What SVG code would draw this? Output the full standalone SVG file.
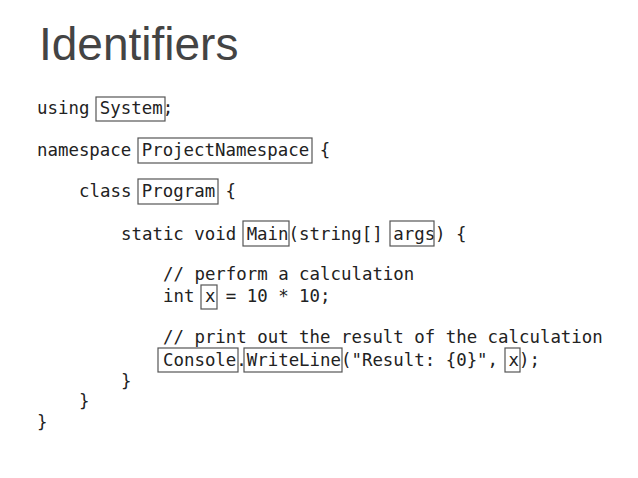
<svg xmlns="http://www.w3.org/2000/svg" width="638" height="478" viewBox="0 0 638 478">
<style>
.c{font-family:"DejaVu Sans Mono","Liberation Mono",monospace;font-size:17.4px;fill:#222;white-space:pre}
.b{fill:none;stroke:#555;stroke-width:1.2}
</style>
<rect width="638" height="478" fill="#fff"/>
<text x="39" y="60" font-family="Liberation Sans, Arial, sans-serif" font-size="46" fill="#444">Identifiers</text>
<g id="code">
<text class="c" x="37" y="114">using System;</text>
<text class="c" x="37" y="156">namespace ProjectNamespace {</text>
<text class="c" x="79" y="197">class Program {</text>
<text class="c" x="121" y="240">static void Main(string[] args) {</text>
<text class="c" x="163" y="280">// perform a calculation</text>
<text class="c" x="163" y="302">int x = 10 * 10;</text>
<text class="c" x="163" y="343">// print out the result of the calculation</text>
<text class="c" x="163" y="366">Console.WriteLine("Result: {0}", x);</text>
<text class="c" x="121" y="387">}</text>
<text class="c" x="79" y="407">}</text>
<text class="c" x="37" y="428">}</text>
</g>
<g id="boxes">
<rect class="b" x="96" y="97" width="69" height="24"/>
<rect class="b" x="138" y="138" width="174" height="25"/>
<rect class="b" x="138" y="179" width="80" height="25"/>
<rect class="b" x="243" y="221" width="46" height="25"/>
<rect class="b" x="390" y="221" width="44" height="25"/>
<rect class="b" x="201" y="285" width="16" height="24"/>
<rect class="b" x="158" y="348" width="80" height="24"/>
<rect class="b" x="244" y="348" width="98" height="24"/>
<rect class="b" x="505" y="348" width="15" height="24"/>
</g>
</svg>
